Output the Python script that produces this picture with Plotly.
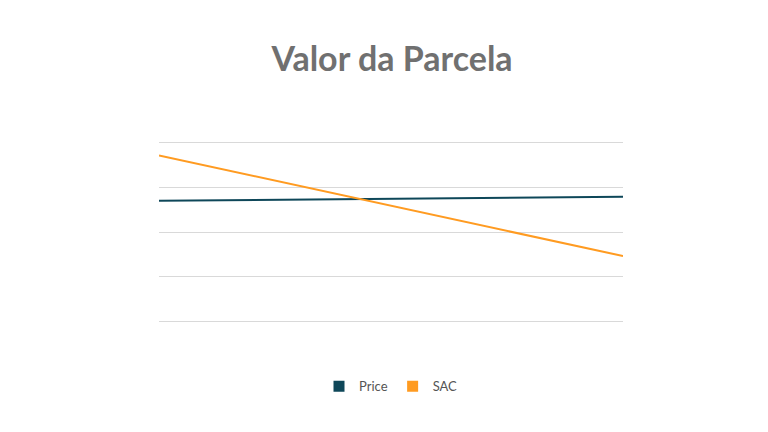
import plotly.graph_objects as go

periods = [1, 360]
price = [3.70, 3.79]
sac = [4.72, 2.46]

colors = {"Price": "#0e4759", "SAC": "#ff9b21"}

fig = go.Figure()
for name, vals in [("Price", price), ("SAC", sac)]:
    fig.add_trace(go.Scatter(x=periods, y=vals, mode="lines",
                             line=dict(color=colors[name], width=2),
                             showlegend=False, hoverinfo="skip"))
    # square legend swatch
    fig.add_trace(go.Scatter(x=[None], y=[None], mode="markers", name=name,
                             marker=dict(symbol="square", size=11, color=colors[name])))

fig.update_layout(
    width=768, height=432,
    paper_bgcolor="white", plot_bgcolor="white",
    margin=dict(l=151, r=153, t=90, b=74),
    title=dict(text="<b>Valor da Parcela</b>", x=0.5, y=0.91, xanchor="center",
               font=dict(family="Lato", size=34, color="#707070")),
    font=dict(family="Lato", color="#555555"),
    xaxis=dict(visible=False, range=[1, 360]),
    yaxis=dict(range=[-0.01, 6.01], tickvals=[0, 1, 2, 3, 4, 5, 6], showticklabels=False,
               gridcolor="#d9d9d9", zeroline=False, showline=False),
    legend=dict(orientation="h", x=0.5, xanchor="center", y=-0.02, yanchor="top",
                font=dict(size=13, color="#555555")),
)

fig.write_html("out.html")
